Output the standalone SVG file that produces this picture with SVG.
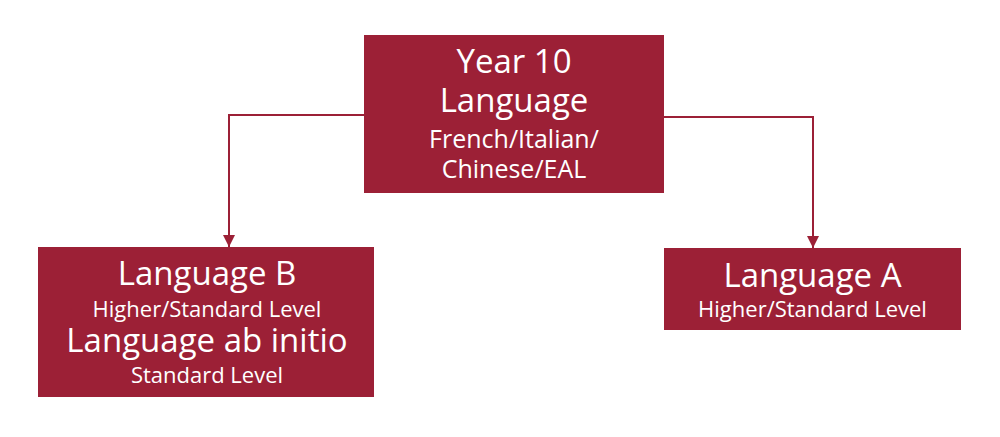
<svg xmlns="http://www.w3.org/2000/svg" width="1000" height="437" viewBox="0 0 1000 437">
<style>
.box{fill:#9c2036;}
.t{font-family:"Open Sans","Noto Sans","Liberation Sans",sans-serif;fill:#ffffff;text-anchor:middle;}
.big{font-size:33px;}
.mid{font-size:25px;}
.sm{font-size:22px;}
.conn{fill:none;stroke:#9c2036;stroke-width:2;}
</style>
<defs>
<marker id="arr" viewBox="0 0 10 10" refX="10" refY="5" markerWidth="6" markerHeight="6" orient="auto" markerUnits="strokeWidth">
<path d="M0,0 L10,5 L0,10 Z" fill="#9c2036"/>
</marker>
</defs>
<g id="connectors">
<path class="conn" d="M364,115 H229 V247" marker-end="url(#arr)"/>
<path class="conn" d="M664,117 H813 V248" marker-end="url(#arr)"/>
</g>
<g id="year10">
<rect class="box" x="364" y="35" width="300" height="158"/>
<text class="t big" x="514" y="73">Year 10</text>
<text class="t big" x="514" y="112">Language</text>
<text class="t mid" x="514" y="148">French/Italian/</text>
<text class="t mid" x="514" y="178">Chinese/EAL</text>
</g>
<g id="languageB">
<rect class="box" x="38" y="247" width="336" height="150"/>
<text class="t big" x="207" y="285">Language B</text>
<text class="t sm" x="207" y="317">Higher/Standard Level</text>
<text class="t big" x="207" y="352">Language ab initio</text>
<text class="t sm" x="207" y="383">Standard Level</text>
</g>
<g id="languageA">
<rect class="box" x="664" y="248" width="297" height="82"/>
<text class="t big" x="812.5" y="287">Language A</text>
<text class="t sm" x="812.5" y="317">Higher/Standard Level</text>
</g>
</svg>
